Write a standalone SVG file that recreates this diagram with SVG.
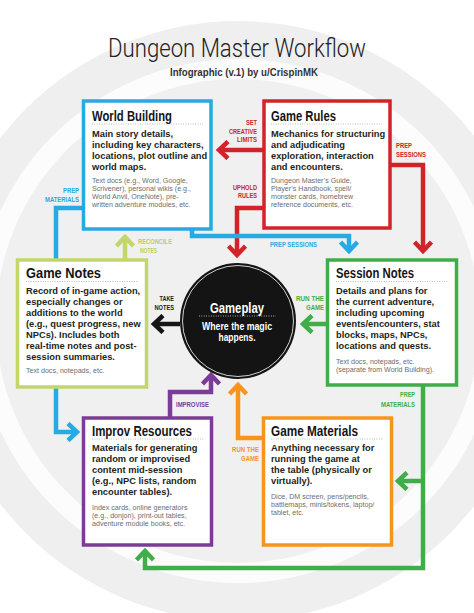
<svg xmlns="http://www.w3.org/2000/svg" width="474" height="613" viewBox="0 0 474 613">
<defs>
<style>
.h{font-family:"Liberation Sans",Arial,sans-serif;font-weight:bold;font-size:14.5px;fill:#151515}
.b{font-family:"Liberation Sans",Arial,sans-serif;font-weight:bold;font-size:9.3px;fill:#231f20}
.s{font-family:"Liberation Sans",Arial,sans-serif;font-size:7.1px;fill:#6d6d6d}
.l{font-family:"Liberation Sans",Arial,sans-serif;font-weight:bold;font-size:7.6px}
.box{fill:#fff;stroke-width:3.5}
.dot{stroke:#999;stroke-width:0.8;stroke-dasharray:0.8 1.6}
.c{fill:none;stroke-width:4.5;stroke-linejoin:miter}
</style>
<marker id="ah-blue" viewBox="0 0 18 20" refX="11" refY="10" markerWidth="18" markerHeight="20" markerUnits="userSpaceOnUse" orient="auto"><path d="M2,1.5 L11,10 L2,18.5" fill="none" stroke="#27a9e1" stroke-width="4.5"/></marker>
<marker id="ah-red" viewBox="0 0 18 20" refX="11" refY="10" markerWidth="18" markerHeight="20" markerUnits="userSpaceOnUse" orient="auto"><path d="M2,1.5 L11,10 L2,18.5" fill="none" stroke="#d2232a" stroke-width="4.5"/></marker>
<marker id="ah-olive" viewBox="0 0 18 20" refX="11" refY="10" markerWidth="18" markerHeight="20" markerUnits="userSpaceOnUse" orient="auto"><path d="M2,1.5 L11,10 L2,18.5" fill="none" stroke="#c2d66b" stroke-width="4.5"/></marker>
<marker id="ah-black" viewBox="0 0 18 20" refX="11" refY="10" markerWidth="18" markerHeight="20" markerUnits="userSpaceOnUse" orient="auto"><path d="M2,1.5 L11,10 L2,18.5" fill="none" stroke="#161616" stroke-width="4.5"/></marker>
<marker id="ah-green" viewBox="0 0 18 20" refX="11" refY="10" markerWidth="18" markerHeight="20" markerUnits="userSpaceOnUse" orient="auto"><path d="M2,1.5 L11,10 L2,18.5" fill="none" stroke="#3fae49" stroke-width="4.5"/></marker>
<marker id="ah-purple" viewBox="0 0 18 20" refX="11" refY="10" markerWidth="18" markerHeight="20" markerUnits="userSpaceOnUse" orient="auto"><path d="M2,1.5 L11,10 L2,18.5" fill="none" stroke="#7b3c97" stroke-width="4.5"/></marker>
<marker id="ah-orange" viewBox="0 0 18 20" refX="11" refY="10" markerWidth="18" markerHeight="20" markerUnits="userSpaceOnUse" orient="auto"><path d="M2,1.5 L11,10 L2,18.5" fill="none" stroke="#f7941d" stroke-width="4.5"/></marker>
</defs>

<g id="background">
<rect width="474" height="613" fill="#fff"/>
<circle cx="238" cy="321" r="300" fill="#efefef"/>
<circle cx="238" cy="321" r="262" fill="#fcfcfc"/>
<circle cx="238" cy="321" r="242" fill="#f0f0f0"/>
</g>

<g id="title">
<text x="237" y="57" text-anchor="middle" font-family="Roboto,'Liberation Sans',sans-serif" font-weight="300" font-size="25" fill="#222" textLength="258" lengthAdjust="spacingAndGlyphs">Dungeon Master Workflow</text>
<text x="244" y="75.5" text-anchor="middle" font-family="'Liberation Sans',Arial,sans-serif" font-weight="bold" font-size="10" fill="#333" textLength="148" lengthAdjust="spacingAndGlyphs">Infographic (v.1) by u/CrispinMK</text>
</g>

<g id="connectors">
<path class="c" stroke="#d2232a" d="M264,150 H219" marker-end="url(#ah-red)"/>
<path class="c" stroke="#d2232a" d="M264,208 H237 V255" marker-end="url(#ah-red)"/>
<path class="c" stroke="#d2232a" d="M390,165 H423 V251" marker-end="url(#ah-red)"/>
<path class="c" stroke="#27a9e1" d="M192,229 V236 H349 V251" marker-end="url(#ah-blue)"/>
<path class="c" stroke="#27a9e1" d="M83,208 H56 V432 H77" marker-end="url(#ah-blue)"/>
<path class="c" stroke="#c2d66b" d="M125,259 V237" marker-end="url(#ah-olive)"/>
<path class="c" stroke="#161616" d="M180,324 H154" marker-end="url(#ah-black)"/>
<path class="c" stroke="#3fae49" d="M327,324 H303" marker-end="url(#ah-green)"/>
<path class="c" stroke="#3fae49" d="M423,385 V568 H145 V551" marker-end="url(#ah-green)"/>
<path class="c" stroke="#3fae49" d="M423,481 H398" marker-end="url(#ah-green)"/>
<path class="c" stroke="#7b3c97" d="M170,418 V392 H211 V375" marker-end="url(#ah-purple)"/>
<path class="c" stroke="#f7941d" d="M264,438 H238 V385" marker-end="url(#ah-orange)"/>
<g class="l" fill="#d2232a" text-anchor="end">
<text x="257" y="125" textLength="11" lengthAdjust="spacingAndGlyphs">SET</text>
<text x="257" y="133.5" textLength="28" lengthAdjust="spacingAndGlyphs">CREATIVE</text>
<text x="257" y="142" textLength="20" lengthAdjust="spacingAndGlyphs">LIMITS</text>
<text x="257" y="189.5" textLength="24" lengthAdjust="spacingAndGlyphs">UPHOLD</text>
<text x="257" y="198" textLength="19" lengthAdjust="spacingAndGlyphs">RULES</text>
</g>
<g class="l" fill="#d2232a">
<text x="396" y="147.5" textLength="16" lengthAdjust="spacingAndGlyphs">PREP</text>
<text x="396" y="157" textLength="30" lengthAdjust="spacingAndGlyphs">SESSIONS</text>
</g>
<text class="l" fill="#27a9e1" x="270" y="247" textLength="47" lengthAdjust="spacingAndGlyphs">PREP SESSIONS</text>
<g class="l" fill="#27a9e1" text-anchor="end">
<text x="79" y="192.5" textLength="16" lengthAdjust="spacingAndGlyphs">PREP</text>
<text x="79" y="202" textLength="34" lengthAdjust="spacingAndGlyphs">MATERIALS</text>
</g>
<g class="l" fill="#b9cf62">
<text x="138" y="243.5" textLength="34" lengthAdjust="spacingAndGlyphs">RECONCILE</text>
<text x="140" y="252.5" textLength="17" lengthAdjust="spacingAndGlyphs">NOTES</text>
</g>
<g class="l" fill="#222" text-anchor="end">
<text x="174" y="300.5" textLength="14.5" lengthAdjust="spacingAndGlyphs">TAKE</text>
<text x="174" y="309.5" textLength="19.5" lengthAdjust="spacingAndGlyphs">NOTES</text>
</g>
<g class="l" fill="#3fae49" text-anchor="end">
<text x="324" y="300.5" textLength="28" lengthAdjust="spacingAndGlyphs">RUN THE</text>
<text x="324" y="309.5" textLength="18" lengthAdjust="spacingAndGlyphs">GAME</text>
<text x="415" y="397" textLength="15" lengthAdjust="spacingAndGlyphs">PREP</text>
<text x="415" y="406.5" textLength="34" lengthAdjust="spacingAndGlyphs">MATERIALS</text>
</g>
<g class="l" fill="#f7941d" text-anchor="end">
<text x="259" y="452" textLength="27" lengthAdjust="spacingAndGlyphs">RUN THE</text>
<text x="259" y="461" textLength="18" lengthAdjust="spacingAndGlyphs">GAME</text>
</g>
<text class="l" fill="#7b3c97" x="176" y="407" textLength="33" lengthAdjust="spacingAndGlyphs">IMPROVISE</text>
</g>

<g id="world-building">
<rect class="box" stroke="#27a9e1" x="83.5" y="101" width="127.5" height="128"/>
<text class="h" x="92" y="120.5" textLength="80" lengthAdjust="spacingAndGlyphs">World Building</text>
<line class="dot" x1="92" y1="124" x2="203" y2="124"/>
<text class="b" x="92" y="136.5">Main story details,</text>
<text class="b" x="92" y="147.5">including key characters,</text>
<text class="b" x="92" y="158.5">locations, plot outline and</text>
<text class="b" x="92" y="169.5">world maps.</text>
<text class="s" x="92" y="183">Text docs (e.g., Word, Google,</text>
<text class="s" x="92" y="191">Scrivener), personal wikis (e.g.,</text>
<text class="s" x="92" y="199">World Anvil, OneNote), pre-</text>
<text class="s" x="92" y="207">written adventure modules, etc.</text>
</g>

<g id="game-rules">
<rect class="box" stroke="#d2232a" x="264" y="101" width="126" height="127"/>
<text class="h" x="271" y="120.5" textLength="65" lengthAdjust="spacingAndGlyphs">Game Rules</text>
<line class="dot" x1="271" y1="124" x2="382" y2="124"/>
<text class="b" x="271" y="136.5">Mechanics for structuring</text>
<text class="b" x="271" y="147.5">and adjudicating</text>
<text class="b" x="271" y="158.5">exploration, interaction</text>
<text class="b" x="271" y="169.5">and encounters.</text>
<text class="s" x="271" y="183">Dungeon Master’s Guide,</text>
<text class="s" x="271" y="191">Player’s Handbook, spell/</text>
<text class="s" x="271" y="199">monster cards, homebrew</text>
<text class="s" x="271" y="207">reference documents, etc.</text>
</g>

<g id="game-notes">
<rect class="box" stroke="#c2d66b" x="17.5" y="260" width="129" height="127"/>
<text class="h" x="26" y="278" textLength="75" lengthAdjust="spacingAndGlyphs">Game Notes</text>
<line class="dot" x1="26" y1="281.5" x2="139" y2="281.5"/>
<text class="b" x="26" y="293.5">Record of in-game action,</text>
<text class="b" x="26" y="304.5">especially changes or</text>
<text class="b" x="26" y="315.5">additions to the world</text>
<text class="b" x="26" y="326.5">(e.g., quest progress, new</text>
<text class="b" x="26" y="337.5">NPCs). Includes both</text>
<text class="b" x="26" y="348.5">real-time notes and post-</text>
<text class="b" x="26" y="359.5">session summaries.</text>
<text class="s" x="26" y="373">Text docs, notepads, etc.</text>
</g>

<g id="gameplay">
<circle cx="238" cy="321" r="58" fill="#141414"/>
<circle cx="238" cy="321" r="55.5" fill="none" stroke="#fff" stroke-width="0.8"/>
<text x="237" y="312.5" text-anchor="middle" font-family="'Liberation Sans',Arial,sans-serif" font-weight="bold" font-size="14" fill="#fff" textLength="54" lengthAdjust="spacingAndGlyphs">Gameplay</text>
<line x1="199" y1="316" x2="276" y2="316" stroke="#fff" stroke-width="0.8" stroke-dasharray="0.8 1.6"/>
<text x="237" y="329.5" text-anchor="middle" font-family="'Liberation Sans',Arial,sans-serif" font-weight="bold" font-size="10" fill="#fff" textLength="70" lengthAdjust="spacingAndGlyphs">Where the magic</text>
<text x="237" y="340.5" text-anchor="middle" font-family="'Liberation Sans',Arial,sans-serif" font-weight="bold" font-size="10" fill="#fff" textLength="37" lengthAdjust="spacingAndGlyphs">happens.</text>
</g>

<g id="session-notes">
<rect class="box" stroke="#3fae49" x="327.5" y="260" width="129" height="125"/>
<text class="h" x="336" y="278" textLength="78" lengthAdjust="spacingAndGlyphs">Session Notes</text>
<line class="dot" x1="336" y1="281.5" x2="449" y2="281.5"/>
<text class="b" x="336" y="293.5">Details and plans for</text>
<text class="b" x="336" y="304.5">the current adventure,</text>
<text class="b" x="336" y="315.5">including upcoming</text>
<text class="b" x="336" y="326.5">events/encounters, stat</text>
<text class="b" x="336" y="337.5">blocks, maps, NPCs,</text>
<text class="b" x="336" y="348.5">locations and quests.</text>
<text class="s" x="336" y="363.5">Text docs, notepads, etc.</text>
<text class="s" x="336" y="371.5">(separate from World Building).</text>
</g>

<g id="improv-resources">
<rect class="box" stroke="#7b3c97" x="83.5" y="418" width="128" height="127"/>
<text class="h" x="92" y="435.5" textLength="100" lengthAdjust="spacingAndGlyphs">Improv Resources</text>
<line class="dot" x1="92" y1="439" x2="204" y2="439"/>
<text class="b" x="92" y="451">Materials for generating</text>
<text class="b" x="92" y="462">random or improvised</text>
<text class="b" x="92" y="473">content mid-session</text>
<text class="b" x="92" y="484">(e.g., NPC lists, random</text>
<text class="b" x="92" y="495">encounter tables).</text>
<text class="s" x="92" y="510">Index cards, online generators</text>
<text class="s" x="92" y="518">(e.g., donjon), print-out tables,</text>
<text class="s" x="92" y="526">adventure module books, etc.</text>
</g>

<g id="game-materials">
<rect class="box" stroke="#f7941d" x="263.5" y="418" width="128" height="127"/>
<text class="h" x="271" y="435.5" textLength="87" lengthAdjust="spacingAndGlyphs">Game Materials</text>
<line class="dot" x1="271" y1="439" x2="384" y2="439"/>
<text class="b" x="271" y="451">Anything necessary for</text>
<text class="b" x="271" y="462">running the game at</text>
<text class="b" x="271" y="473">the table (physically or</text>
<text class="b" x="271" y="484">virtually).</text>
<text class="s" x="271" y="498.5">Dice, DM screen, pens/pencils,</text>
<text class="s" x="271" y="506.5">battlemaps, minis/tokens, laptop/</text>
<text class="s" x="271" y="514.5">tablet, etc.</text>
</g>
</svg>
